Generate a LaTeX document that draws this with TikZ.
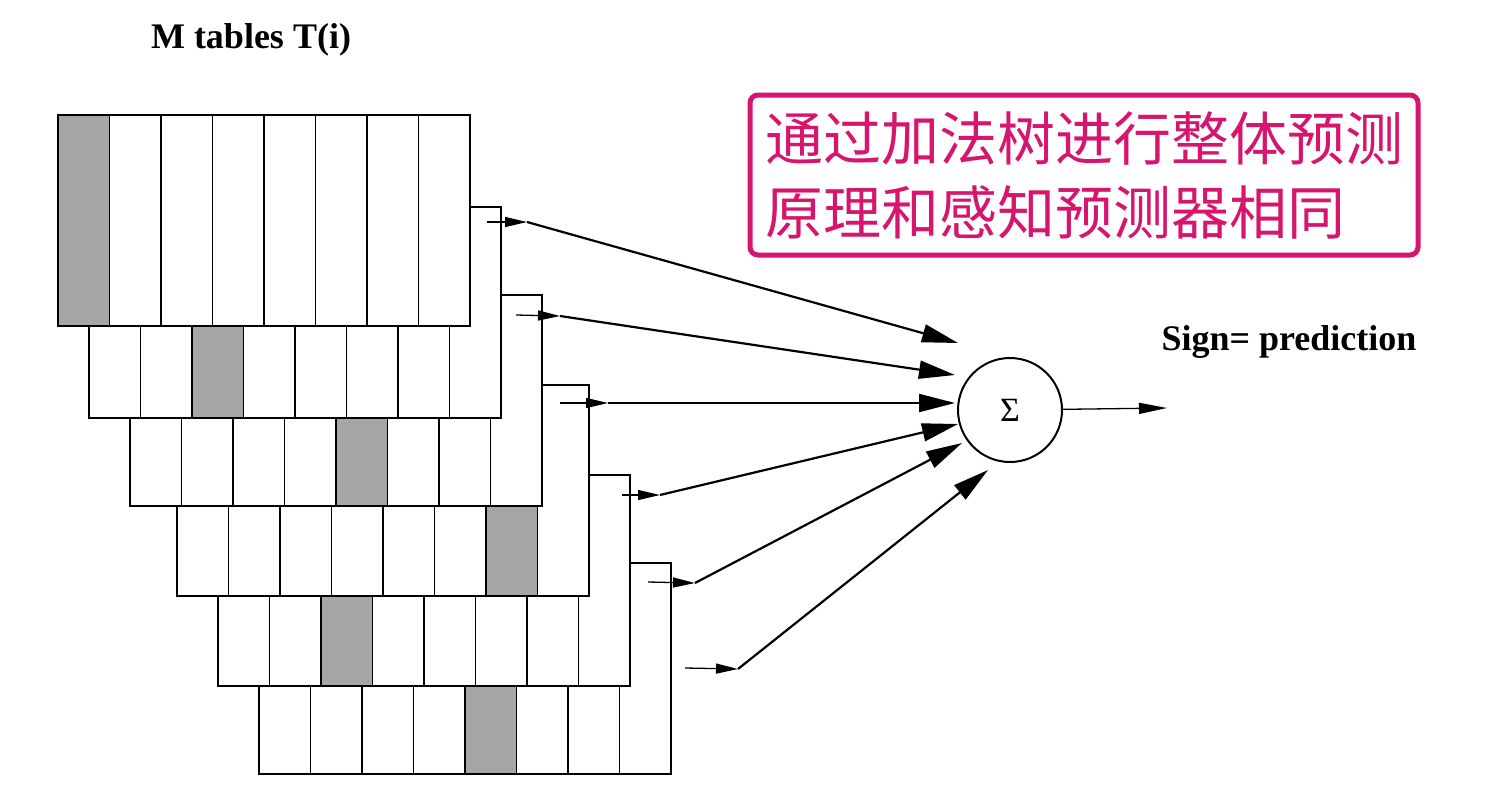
\documentclass[tikz,border=0pt]{standalone}
\usepackage{fontspec}
\setmainfont{Liberation Serif}
\newfontfamily\cjk{Noto Sans CJK SC}
\usetikzlibrary{arrows.meta}
\definecolor{pinkc}{HTML}{D6156E}
\tikzset{cellbox/.style={draw=black,line width=1.2pt,fill=white},
shade/.style={draw=black,line width=1.2pt,fill=black!35},
small/.style={line width=1.3pt,-{Triangle[length=22pt,width=10pt]}},
big/.style={line width=2.2pt,-{Triangle[length=36pt,width=18pt]}},
lab/.style={font=\bfseries\fontsize{36}{40}\selectfont}}
\begin{document}
\begin{tikzpicture}[x=1pt,y=-1pt]
\useasboundingbox (0,0) rectangle (1486,807);
\node[lab] (title) at (251,40) {M tables T(i)};
\foreach \l/\t/\s [count=\k] in {259/563/4,218/475/2,177/385/6,130/295/4,89/207/2,58/115/0}{
  \foreach \c in {0,...,7}{
    \pgfmathsetmacro{\xa}{\l+\c*51.5}
    \pgfmathsetmacro{\xb}{\l+(\c+1)*51.5}
    \ifnum\c=\s
      \draw[shade] (\xa,\t) rectangle (\xb,\t+211);
    \else
      \draw[cellbox] (\xa,\t) rectangle (\xb,\t+211);
    \fi
  }
}
\node[circle,draw,line width=2pt,minimum size=104pt,inner sep=0pt,font=\fontsize{34}{34}\selectfont] (sum) at (1010,410) {Σ};
\coordinate (a1) at (487,222); \coordinate (b1) at (527,222);
\coordinate (a2) at (516,315); \coordinate (b2) at (560,316);
\coordinate (a3) at (560,403); \coordinate (b3) at (608,403);
\coordinate (a4) at (622,495); \coordinate (b4) at (660,495);
\coordinate (a5) at (648,582); \coordinate (b5) at (695,583);
\coordinate (a6) at (685,668); \coordinate (b6) at (738,669);
\foreach \i in {1,...,6}{\draw[small] (a\i) -- (b\i);}
\draw[big] (b1) -- (958,343);
\draw[big] (b2) -- (955,375);
\draw[big] (b3) -- (955,403);
\draw[big] (b4) -- (958,424);
\draw[big] (b5) -- (962,443);
\draw[big] (b6) -- (988,470);
\coordinate (out) at (1167,408);
\draw[line width=1.3pt,-{Triangle[length=28pt,width=11pt]}] (sum) -- (out);
\node[lab] (sign) at (1289,342) {Sign= prediction};
\node[draw=pinkc,line width=5pt,rounded corners=8pt,minimum width=668pt,minimum height=160pt,text=pinkc,align=left,font=\cjk\fontsize{58}{74}\selectfont,inner sep=0pt] (note) at (1084,175) {通过加法树进行整体预测\\原理和感知预测器相同};
\end{tikzpicture}
\end{document}
